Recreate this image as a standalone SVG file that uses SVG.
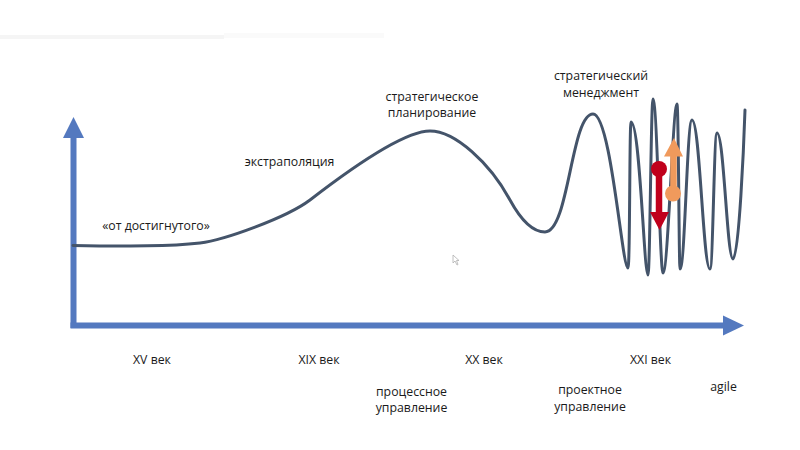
<svg xmlns="http://www.w3.org/2000/svg" width="800" height="450" viewBox="0 0 800 450">
  <defs>
    <style>
      .lbl { font-family: "Open Sans", "Liberation Sans", sans-serif; font-size: 12.3px; fill: #1a1a1a; text-anchor: middle; }
      .axis { stroke: #5479bf; stroke-width: 6; fill: none; }
      .axhead { fill: #5479bf; }
      .curve { stroke: #44546a; stroke-width: 3; fill: none; stroke-linecap: round; stroke-linejoin: round; }
    </style>
  </defs>
  <rect width="800" height="450" fill="#ffffff"/>
  <rect x="0" y="35" width="224" height="4" fill="#f5f5f5"/>
  <rect x="224" y="33" width="160" height="5" fill="#fafafa"/>

  <g id="axes">
    <line class="axis" x1="73.5" y1="328" x2="73.5" y2="135"/>
    <polygon class="axhead" points="73.5,117 63,138 84,138"/>
    <line class="axis" x1="70.5" y1="325.5" x2="725" y2="325.5"/>
    <polygon class="axhead" points="744,325.5 723,315.5 723,335.5"/>
  </g>

  <g id="connectors">
    <path class="curve" d="M73,245.5 C120,246 165,247 200,243 C224,240 286,218 310,200 C332,183 400,131 430,131 C455,131 490,163 510,200 C522,222 533,232 545,232 C569,232 571,114 593,114 C611,114 622,268 628,268 C630,268 629.5,122 631,122 C640,122 644,275 648,275 C650,275 651,99 653,99 C657,99 660,273 663,273 C668,273 673,104 677,104 C678.5,104 679,269 680,269 C685,269 687,120 692,120 C700,120 703,269 710,269 C713,269 714,133 717,133 C724,133 727,259 733,259 C739,259 744,140 745,110"/>
  </g>

  <g id="arrow-down">
    <line x1="659" y1="169" x2="659" y2="214" stroke="#c0001c" stroke-width="6.5"/>
    <circle cx="659" cy="169" r="8" fill="#c0001c"/>
    <polygon points="650,212 669,212 659.5,230" fill="#c0001c"/>
  </g>
  <g id="arrow-up">
    <line x1="673.5" y1="193" x2="673.5" y2="154" stroke="#f09a5c" stroke-width="6.5"/>
    <circle cx="673" cy="193.5" r="8" fill="#f09a5c"/>
    <polygon points="664,156.5 683,156.5 674,138" fill="#f09a5c"/>
  </g>

  <g id="label-dostignutogo"><text class="lbl" x="156" y="230">«от достигнутого»</text></g>
  <g id="label-ekstrapolyatsiya"><text class="lbl" x="289.5" y="166">экстраполяция</text></g>
  <g id="label-strat-plan"><text class="lbl" x="432" y="100.5">стратегическое</text><text class="lbl" x="432" y="117">планирование</text></g>
  <g id="label-strat-men"><text class="lbl" x="601" y="80">стратегический</text><text class="lbl" x="601" y="96.5">менеджмент</text></g>

  <g id="label-xv"><text class="lbl" x="152" y="364">XV век</text></g>
  <g id="label-xix"><text class="lbl" x="319" y="364">XIX век</text></g>
  <g id="label-xx"><text class="lbl" x="484" y="364">XX век</text></g>
  <g id="label-xxi"><text class="lbl" x="650.5" y="364">XXI век</text></g>

  <g id="label-process"><text class="lbl" x="411.5" y="395.5">процессное</text><text class="lbl" x="411.5" y="412">управление</text></g>
  <g id="label-project"><text class="lbl" x="590" y="394">проектное</text><text class="lbl" x="590" y="410.5">управление</text></g>
  <g id="label-agile"><text class="lbl" x="723.5" y="391">agile</text></g>

  <path d="M453,255 L453,263 L455,261 L457,265 L458,264.5 L456.5,260.5 L459,260.5 Z" fill="#ffffff" stroke="#b0b0b0" stroke-width="0.8"/>
</svg>
